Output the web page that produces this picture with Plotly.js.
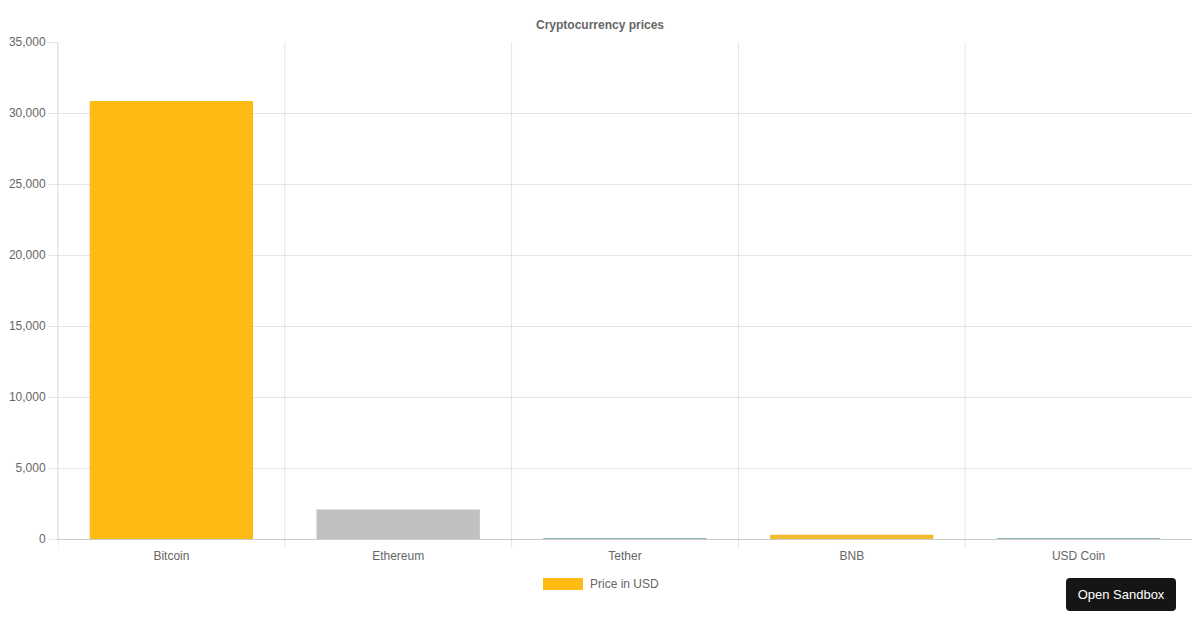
<!DOCTYPE html>
<html>
<head>
<meta charset="utf-8">
<script src="https://cdn.plot.ly/plotly-3.0.1.min.js"></script>
<style>
  html, body { margin: 0; padding: 0; background: #fff; }
  #chart { width: 1200px; height: 630px; }
  #btn {
    position: absolute; left: 1066px; top: 578px; width: 110px; height: 33px;
    background: #151515; color: #fff; border-radius: 4px;
    font-family: "Liberation Sans", Arial, sans-serif; font-size: 13px;
    display: flex; align-items: center; justify-content: center;
  }
</style>
</head>
<body>
<div id="chart"></div>
<div id="btn">Open Sandbox</div>
<script>
const categories = ["Bitcoin", "Ethereum", "Tether", "BNB", "USD Coin"];
const pricesUSD = [30850, 2080, 1, 300, 1];
const barColors = ["#FFBA14", "#C0C0C0", "#93B6BC", "#F3BA2F", "#93B6BC"];
const seriesName = "Price in USD";
const chartTitle = "Cryptocurrency prices";

const grid = "rgba(0,0,0,0.1)";
const font = { family: "Liberation Sans, Arial, sans-serif", size: 12, color: "#666" };

const trace = {
  type: "bar",
  x: categories,
  y: pricesUSD,
  name: seriesName,
  marker: { color: barColors, line: { width: 0 } },
  hoverinfo: "x+y"
};

// vertical grid lines between categories (Chart.js offset grid)
const shapes = [];
for (let i = 0; i <= categories.length - 1; i++) {
  shapes.push({
    type: "line", xref: "x", yref: "paper",
    x0: i - 0.5, x1: i - 0.5, y0: -9 / 497, y1: 1,
    line: { color: grid, width: 1 }, layer: "below"
  });
}
// legend box
shapes.push({
  type: "rect", xref: "paper", yref: "paper",
  x0: (543 - 58) / 1134, x1: (583 - 58) / 1134,
  y0: (539 - 590) / 497, y1: (539 - 578) / 497,
  fillcolor: barColors[0], line: { width: 0 }
});

const layout = {
  width: 1200, height: 630,
  margin: { l: 58, r: 8, t: 42, b: 91 },
  paper_bgcolor: "#fff", plot_bgcolor: "#fff",
  font: font,
  showlegend: false,
  bargap: 0.28,
  title: {
    text: "<b>" + chartTitle + "</b>",
    xref: "container", x: 0.5, xanchor: "center",
    yref: "container", y: 1 - 25 / 630, yanchor: "middle",
    font: { family: font.family, size: 12, color: "#666" }
  },
  xaxis: {
    type: "category",
    range: [-0.5, categories.length - 0.5],
    showgrid: false,
    showline: true, linecolor: "rgba(0,0,0,0.2)", linewidth: 1,
    ticks: "outside", ticklen: 6, tickcolor: "rgba(0,0,0,0)",
    tickfont: font,
    zeroline: false,
    fixedrange: true
  },
  yaxis: {
    range: [0, 35000],
    dtick: 5000, tick0: 0,
    tickformat: ",d",
    showgrid: true, gridcolor: grid, gridwidth: 1,
    showline: true, linecolor: grid, linewidth: 1,
    ticks: "outside", ticklen: 9, tickcolor: grid,
    tickfont: font,
    zeroline: false,
    fixedrange: true
  },
  shapes: shapes,
  annotations: [{
    xref: "paper", yref: "paper",
    x: (588 - 58) / 1134, y: (539 - 584) / 497,
    xanchor: "left", yanchor: "middle",
    text: seriesName, showarrow: false,
    font: font
  }]
};

Plotly.newPlot("chart", [trace], layout, { displayModeBar: false });
</script>
</body>
</html>
